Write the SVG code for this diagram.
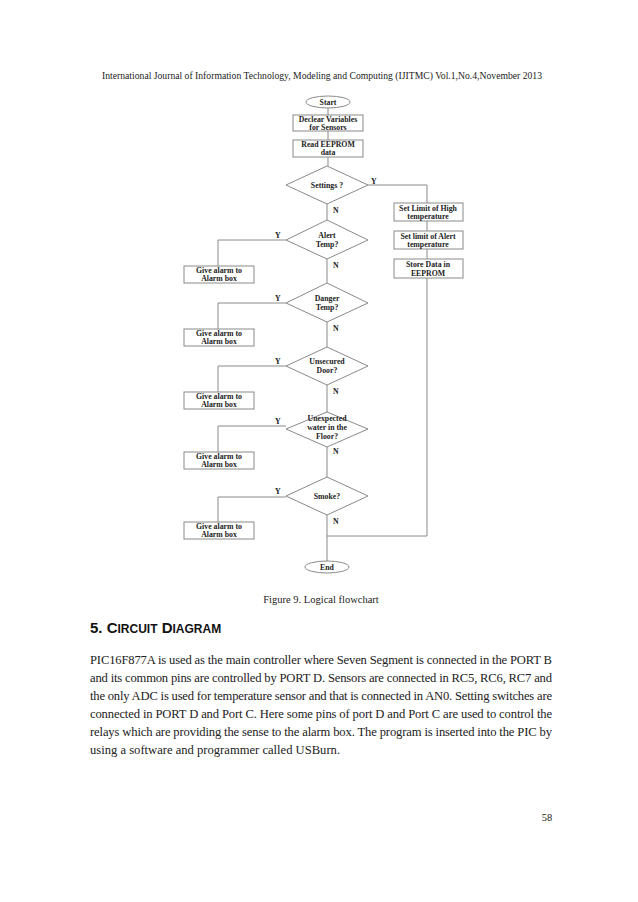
<svg xmlns="http://www.w3.org/2000/svg" width="638" height="902" viewBox="0 0 638 902">
<style>
.ln{fill:none;stroke:#8a8a8a;stroke-width:1}
.bx{fill:#fff;stroke:#8a8a8a;stroke-width:1}
.ft{font-family:"Liberation Serif",serif;font-weight:bold;font-size:7.8px;fill:#222;text-anchor:middle}
.lb{font-family:"Liberation Serif",serif;font-weight:bold;font-size:7.8px;fill:#222}
.pg{font-family:"Liberation Serif",serif;fill:#222}
.hd{font-family:"Liberation Sans",sans-serif;font-weight:bold;fill:#111}
</style>
<rect width="638" height="902" fill="#fff"/>
<text class="pg" x="322" y="79" font-size="10.5" text-anchor="middle" textLength="440" lengthAdjust="spacingAndGlyphs">International Journal of Information Technology, Modeling and Computing (IJITMC) Vol.1,No.4,November 2013</text>

<g id="connectors">
<path class="ln" d="M328,108 V115 M328,131 V140 M328,157 V166"/>
<path class="ln" d="M368,185 H427 V203 M427,221 V231 M427,249 V259 M427,278 V536 H327"/>
<path class="ln" d="M327,204 V220 M327,259 V283 M327,322 V347 M327,385 V412 M327,447 V477 M327,515 V561"/>
<path class="ln" d="M286,240 H218 V266 M286,303 H218 V329 M286,366 H218 V392 M286,426 H218 V452 M286,497 H218 V522"/>
</g>

<g id="start"><ellipse class="bx" cx="328" cy="102" rx="22" ry="6"/><text class="ft" x="328" y="104.5">Start</text></g>
<g id="declare"><rect class="bx" x="293" y="115" width="70" height="16"/><text class="ft" x="328" y="122">Declear Variables</text><text class="ft" x="328" y="129.5">for Sensors</text></g>
<g id="read"><rect class="bx" x="293" y="140" width="70" height="17"/><text class="ft" x="328" y="147">Read EEPROM</text><text class="ft" x="328" y="154.5">data</text></g>
<g id="settings"><polygon class="bx" points="327,166 368,185 327,204 286,185"/><text class="ft" x="327" y="188">Settings ?</text></g>
<g id="setHigh"><rect class="bx" x="394" y="203" width="69" height="18"/><text class="ft" x="428" y="210.5">Set Limit of High</text><text class="ft" x="428" y="218.5">temperature</text></g>
<g id="setAlert"><rect class="bx" x="394" y="231" width="69" height="18"/><text class="ft" x="428" y="238.5">Set limit of Alert</text><text class="ft" x="428" y="246.5">temperature</text></g>
<g id="store"><rect class="bx" x="394" y="259" width="69" height="19"/><text class="ft" x="428" y="267">Store Data in</text><text class="ft" x="428" y="275.5">EEPROM</text></g>
<g id="alert"><polygon class="bx" points="327,220 368,240 327,259 286,240"/><text class="ft" x="327" y="238">Alert</text><text class="ft" x="327" y="246.5">Temp?</text></g>
<g id="alarm1"><rect class="bx" x="184" y="266" width="70" height="17"/><text class="ft" x="219" y="273">Give alarm to</text><text class="ft" x="219" y="281">Alarm box</text></g>
<g id="danger"><polygon class="bx" points="327,283 368,303 327,322 286,303"/><text class="ft" x="327" y="301">Danger</text><text class="ft" x="327" y="309.5">Temp?</text></g>
<g id="alarm2"><rect class="bx" x="184" y="329" width="70" height="17"/><text class="ft" x="219" y="336">Give alarm to</text><text class="ft" x="219" y="344">Alarm box</text></g>
<g id="door"><polygon class="bx" points="327,347 368,366 327,385 286,366"/><text class="ft" x="327" y="364">Unsecured</text><text class="ft" x="327" y="372.5">Door?</text></g>
<g id="alarm3"><rect class="bx" x="184" y="392" width="70" height="17"/><text class="ft" x="219" y="399">Give alarm to</text><text class="ft" x="219" y="407">Alarm box</text></g>
<g id="water"><polygon class="bx" points="327,412 368,429 327,447 286,429"/><text class="ft" x="327" y="421">Unexpected</text><text class="ft" x="327" y="430">water in the</text><text class="ft" x="327" y="439">Floor?</text></g>
<g id="alarm4"><rect class="bx" x="184" y="452" width="70" height="17"/><text class="ft" x="219" y="459">Give alarm to</text><text class="ft" x="219" y="467">Alarm box</text></g>
<g id="smoke"><polygon class="bx" points="327,477 368,496 327,515 286,496"/><text class="ft" x="327" y="498.5">Smoke?</text></g>
<g id="alarm5"><rect class="bx" x="184" y="522" width="70" height="17"/><text class="ft" x="219" y="529">Give alarm to</text><text class="ft" x="219" y="537">Alarm box</text></g>
<g id="end"><ellipse class="bx" cx="327" cy="567" rx="22" ry="6"/><text class="ft" x="327" y="569.5">End</text></g>

<g id="labels">
<text class="lb" x="371" y="184">Y</text>
<text class="lb" x="333" y="213">N</text>
<text class="lb" x="275" y="238">Y</text>
<text class="lb" x="333" y="268">N</text>
<text class="lb" x="275" y="301">Y</text>
<text class="lb" x="333" y="331">N</text>
<text class="lb" x="275" y="364">Y</text>
<text class="lb" x="333" y="394">N</text>
<text class="lb" x="275" y="424">Y</text>
<text class="lb" x="333" y="454">N</text>
<text class="lb" x="275" y="494">Y</text>
<text class="lb" x="333" y="524">N</text>
</g>

<text class="pg" x="321" y="603" font-size="10.5" text-anchor="middle">Figure 9. Logical flowchart</text>
<text class="hd" x="90" y="633" font-size="15">5. C<tspan font-size="12">IRCUIT</tspan> D<tspan font-size="12">IAGRAM</tspan></text>
<g class="pg" font-size="12.6">
<text x="90" y="664" textLength="462" lengthAdjust="spacing">PIC16F877A is used as the main controller where Seven Segment is connected in the PORT B</text>
<text x="90" y="682" textLength="462" lengthAdjust="spacing">and its common pins are controlled by PORT D. Sensors are connected in RC5, RC6, RC7 and</text>
<text x="90" y="700" textLength="462" lengthAdjust="spacing">the only ADC is used for temperature sensor and that is connected in AN0. Setting switches are</text>
<text x="90" y="718" textLength="462" lengthAdjust="spacing">connected in PORT D and Port C. Here some pins of port D and Port C are used to control the</text>
<text x="90" y="736" textLength="462" lengthAdjust="spacing">relays which are providing the sense to the alarm box. The program is inserted into the PIC by</text>
<text x="90" y="754">using a software and programmer called USBurn.</text>
</g>
<text class="pg" x="547" y="821" font-size="10.5" text-anchor="middle">58</text>
</svg>
